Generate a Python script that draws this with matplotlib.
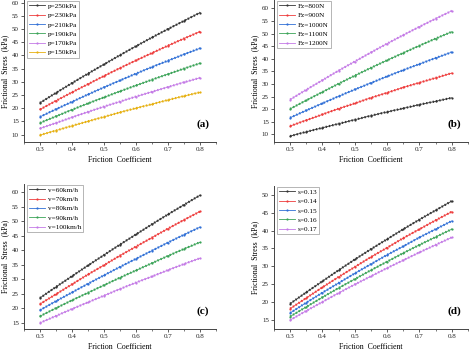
import matplotlib
matplotlib.use("Agg")
import matplotlib.pyplot as plt
from matplotlib.ticker import MultipleLocator

plt.rcParams["font.family"] = ["Liberation Serif", "DejaVu Serif"]

# friction coefficient sampled along the x axis
friction = [0.30, 0.35, 0.40, 0.45, 0.50, 0.55, 0.60, 0.65, 0.70, 0.75, 0.80]

# (a) tyre pressure
labels_a = ["p=250kPa", "p=230kPa", "p=210kPa", "p=190kPa", "p=170kPa", "p=150kPa"]
p250 = [22.0, 25.8, 29.5, 33.1, 36.6, 40.1, 43.5, 46.8, 50.0, 53.1, 56.2]
p230 = [19.5, 22.8, 26.0, 29.1, 32.2, 35.2, 38.1, 40.9, 43.7, 46.4, 49.0]
p210 = [16.7, 19.6, 22.4, 25.2, 27.9, 30.5, 33.1, 35.6, 38.0, 40.4, 42.7]
p190 = [14.4, 16.9, 19.4, 21.8, 24.1, 26.4, 28.6, 30.8, 32.9, 35.0, 37.0]
p170 = [12.3, 14.4, 16.5, 18.6, 20.6, 22.5, 24.4, 26.2, 28.0, 29.8, 31.5]
p150 = [9.8, 11.5, 13.3, 15.0, 16.7, 18.4, 20.0, 21.5, 23.1, 24.6, 26.0]

# (b) vertical load
labels_b = ["Fz=800N", "Fz=900N", "Fz=1000N", "Fz=1100N", "Fz=1200N"]
fz800 = [9.3, 11.0, 12.6, 14.2, 15.8, 17.4, 18.9, 20.3, 21.8, 23.1, 24.5]
fz900 = [13.3, 15.6, 17.9, 20.2, 22.3, 24.5, 26.5, 28.6, 30.5, 32.4, 34.3]
fz1000 = [16.6, 19.5, 22.3, 25.1, 27.8, 30.4, 33.0, 35.5, 37.9, 40.3, 42.6]
fz1100 = [20.1, 23.5, 26.8, 30.1, 33.3, 36.4, 39.4, 42.3, 45.2, 48.0, 50.7]
fz1200 = [23.8, 27.7, 31.5, 35.3, 38.9, 42.5, 46.0, 49.4, 52.7, 55.9, 59.0]

# (c) speed
labels_c = ["v=60km/h", "v=70km/h", "v=80km/h", "v=90km/h", "v=100km/h"]
v60 = [23.6, 27.4, 31.1, 34.8, 38.4, 42.0, 45.5, 49.0, 52.4, 55.7, 59.0]
v70 = [21.5, 24.9, 28.3, 31.7, 34.9, 38.2, 41.3, 44.4, 47.5, 50.5, 53.4]
v80 = [19.4, 22.5, 25.5, 28.5, 31.4, 34.3, 37.1, 39.9, 42.7, 45.4, 48.0]
v90 = [17.3, 20.1, 22.8, 25.4, 28.0, 30.6, 33.1, 35.6, 38.1, 40.5, 42.8]
v100 = [15.0, 17.4, 19.8, 22.1, 24.4, 26.7, 28.9, 31.0, 33.2, 35.3, 37.3]

# (d) slip ratio
labels_d = ["s=0.13", "s=0.14", "s=0.15", "s=0.16", "s=0.17"]
s13 = [19.5, 22.7, 25.8, 28.9, 31.9, 34.8, 37.6, 40.4, 43.1, 45.7, 48.3]
s14 = [18.1, 21.1, 24.1, 27.0, 29.8, 32.6, 35.2, 37.9, 40.4, 42.9, 45.3]
s15 = [16.9, 19.8, 22.6, 25.3, 28.0, 30.6, 33.2, 35.6, 38.1, 40.4, 42.7]
s16 = [15.9, 18.6, 21.3, 23.9, 26.4, 28.9, 31.3, 33.7, 36.0, 38.2, 40.4]
s17 = [14.9, 17.5, 20.0, 22.5, 24.9, 27.2, 29.5, 31.7, 33.9, 36.0, 38.1]

yticks_a = [10, 15, 20, 25, 30, 35, 40, 45, 50, 55, 60]
yticks_c = [15, 20, 25, 30, 35, 40, 45, 50, 55, 60]
yticks_d = [15, 20, 25, 30, 35, 40, 45, 50]
xticks = [0.3, 0.4, 0.5, 0.6, 0.7, 0.8]

BLACK = "#333333"
RED = "#ee3b3b"
BLUE = "#2f6fd6"
GREEN = "#3aa357"
PURPLE = "#c47ae6"
YELLOW = "#e6b010"


def panel(ax, series, labels, colors, ylim, yticks, tag):
    for ys, lbl, c in zip(series, labels, colors):
        ax.plot(friction, ys, color=c, lw=0.6, marker="o", ms=1.6, mew=0, label=lbl)
        ax.plot(friction, ys, color=c, lw=1.6, ls=(0, (0.6, 0.9)))
    ax.set_xlim(0.25, 0.85)
    ax.set_ylim(*ylim)
    ax.set_xticks(xticks)
    ax.set_xticklabels([f"{t:.1f}" for t in xticks])
    ax.xaxis.set_minor_locator(MultipleLocator(0.05))
    ax.set_yticks(yticks)
    for s in ["top", "right"]:
        ax.spines[s].set_visible(False)
    for s in ["left", "bottom"]:
        ax.spines[s].set_linewidth(0.7)
        ax.spines[s].set_color("#444444")
    ax.tick_params(which="major", direction="out", length=2.5, width=0.6,
                   labelsize=5, pad=1.2, colors="#444444", labelcolor="#222222")
    ax.tick_params(which="minor", direction="out", length=1.5, width=0.5, colors="#444444")
    ax.set_xlabel("Friction  Coefficient", fontsize=5.6, labelpad=3)
    ax.set_ylabel("Frictional  Stress  (kPa)", fontsize=5.6, labelpad=1.5)
    ax.text(0.93, 0.09, tag, transform=ax.transAxes, fontsize=8,
            fontweight="bold", ha="center", va="bottom")
    leg = ax.legend(loc="upper left", bbox_to_anchor=(0.01, 1.0), fontsize=5.2,
                    handlelength=2.2, handletextpad=0.4, labelspacing=0.45,
                    borderpad=0.3, borderaxespad=0.1, fancybox=False,
                    edgecolor="#999999", framealpha=1)
    leg.get_frame().set_linewidth(0.5)


fig = plt.figure(figsize=(4.74, 3.53), dpi=100)
ax_a = fig.add_axes([0.0506, 0.598, 0.4051, 0.402])
ax_b = fig.add_axes([0.578, 0.598, 0.4093, 0.402])
ax_c = fig.add_axes([0.0506, 0.068, 0.4051, 0.411])
ax_d = fig.add_axes([0.578, 0.068, 0.4093, 0.405])

panel(ax_a, [p250, p230, p210, p190, p170, p150], labels_a,
      [BLACK, RED, BLUE, GREEN, PURPLE, YELLOW], (7.2, 61), yticks_a, "(a)")
panel(ax_b, [fz800, fz900, fz1000, fz1100, fz1200], labels_b,
      [BLACK, RED, BLUE, GREEN, PURPLE], (7.0, 63.3), yticks_a, "(b)")
panel(ax_c, [v60, v70, v80, v90, v100], labels_c,
      [BLACK, RED, BLUE, GREEN, PURPLE], (12.9, 62.9), yticks_c, "(c)")
panel(ax_d, [s13, s14, s15, s16, s17], labels_d,
      [BLACK, RED, BLUE, GREEN, PURPLE], (12.4, 52.5), yticks_d, "(d)")

fig.savefig("out.png", dpi=100)
